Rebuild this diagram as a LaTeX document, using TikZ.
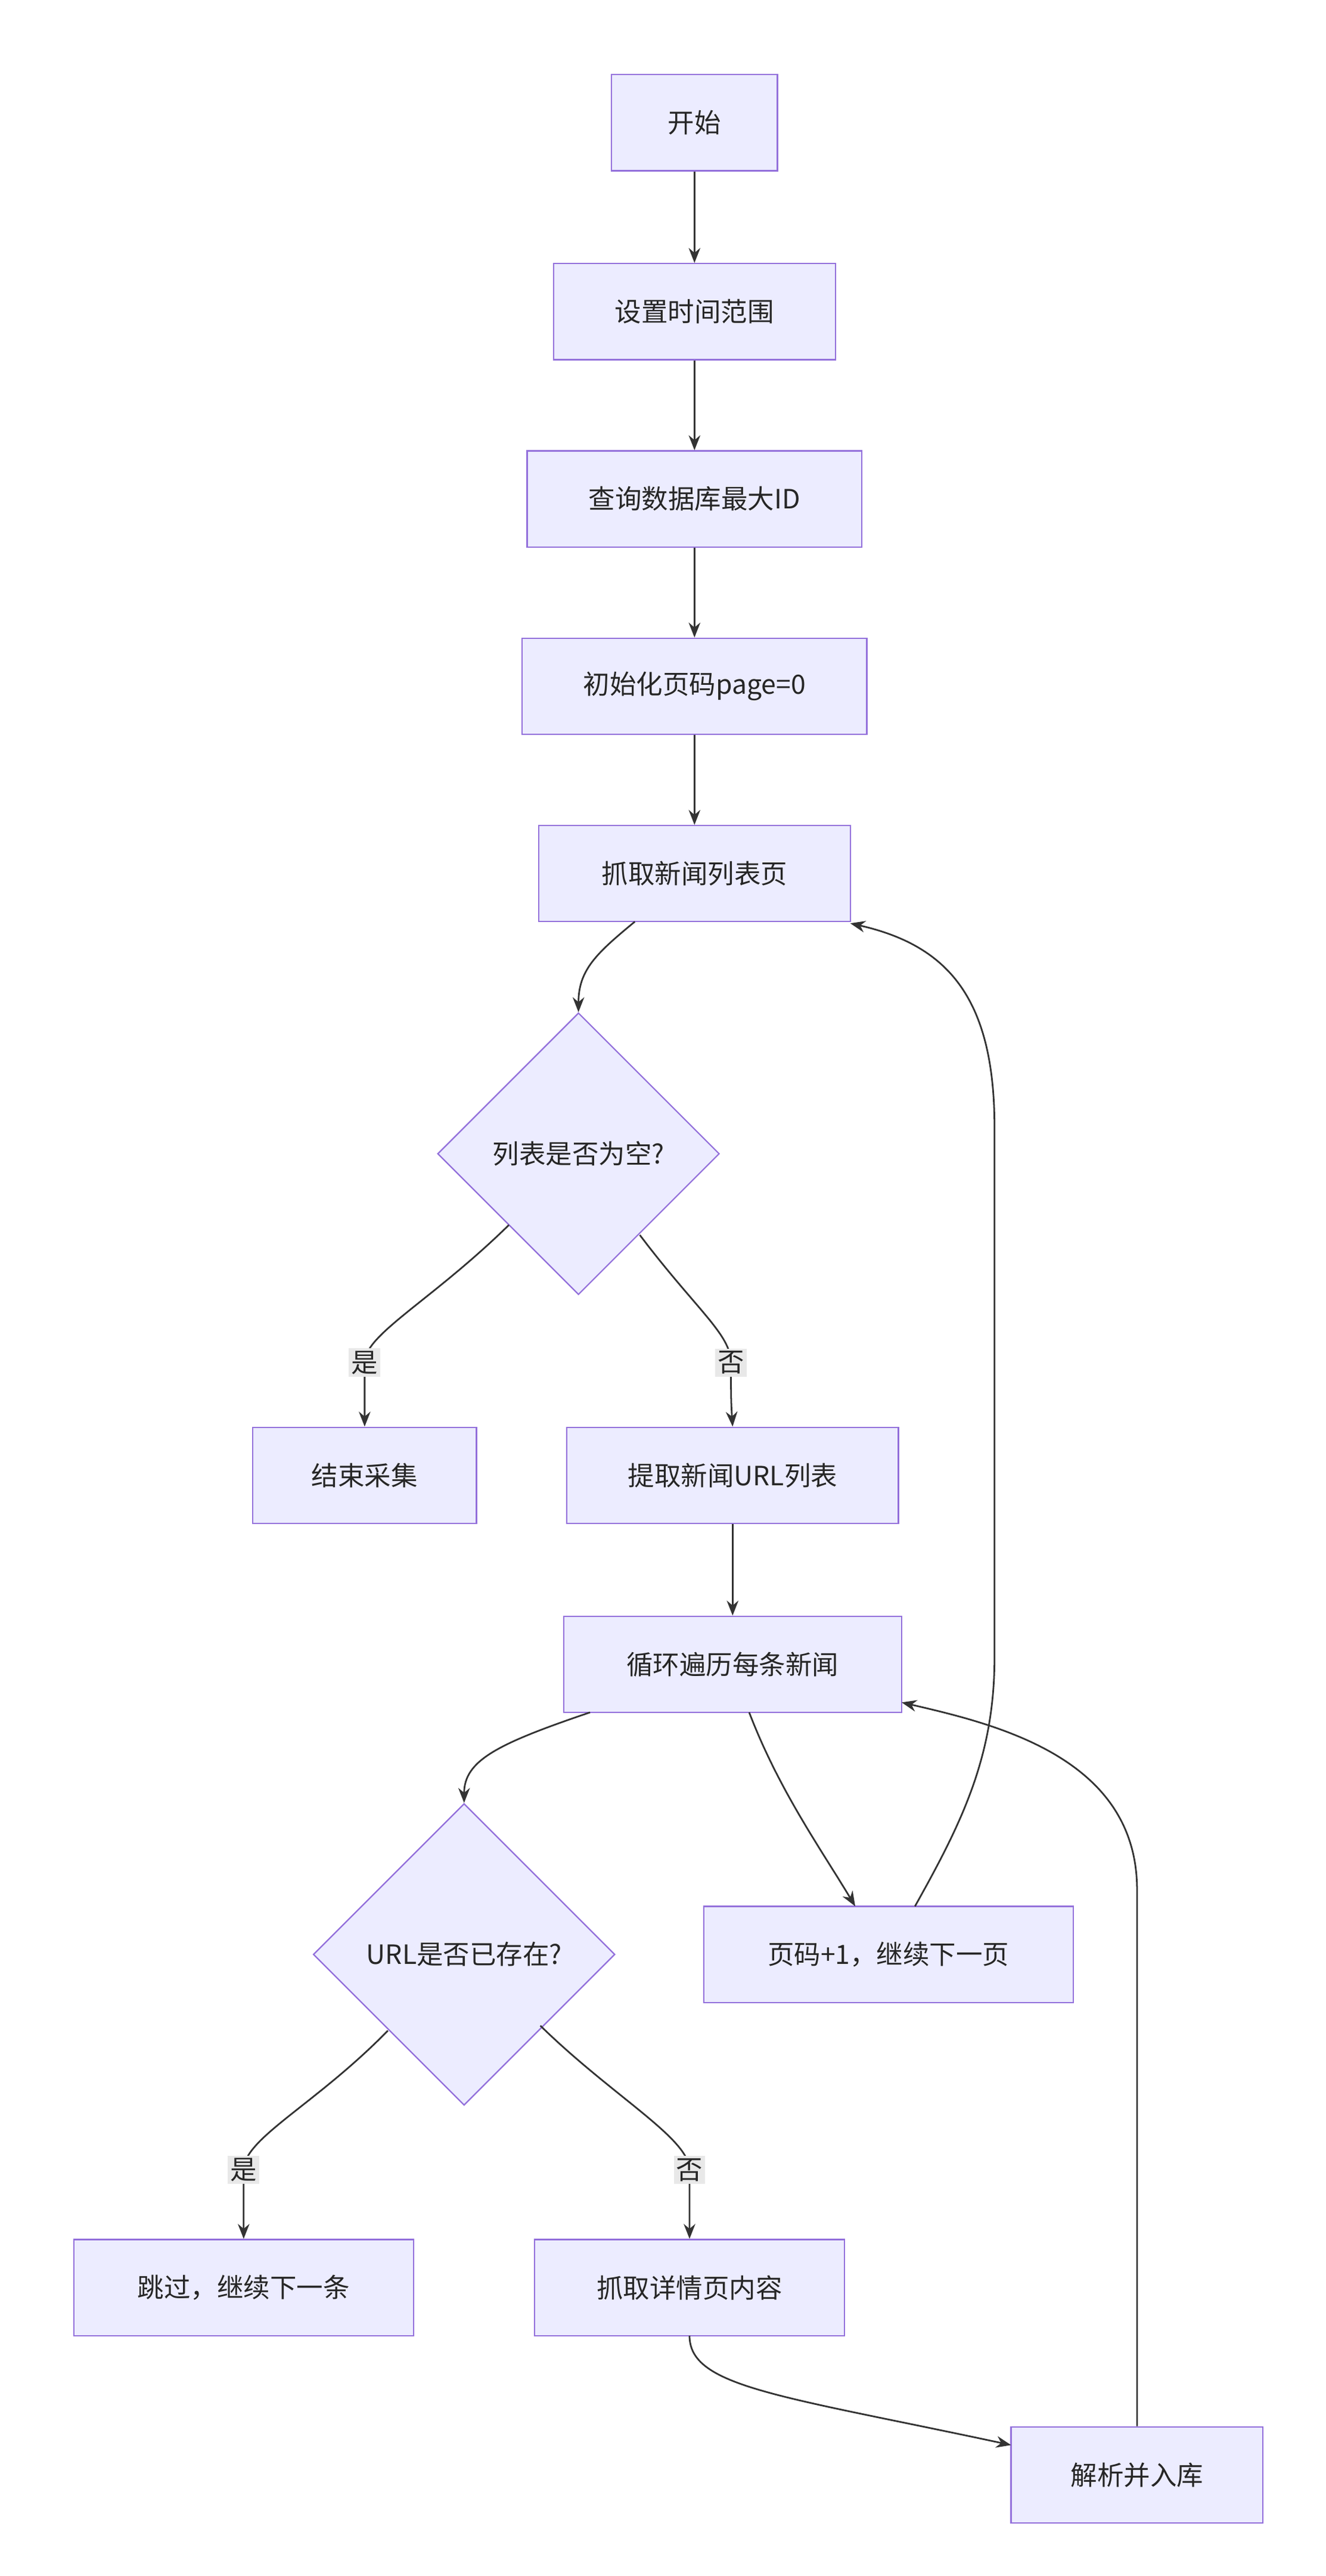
\documentclass[tikz,border=0pt]{standalone}
\usepackage{fontspec}
\newfontfamily\cjk{Noto Sans CJK SC}
\usetikzlibrary{shapes.geometric,arrows.meta}
\definecolor{nfill}{HTML}{ECECFF}
\definecolor{nline}{HTML}{9370DB}
\definecolor{eline}{HTML}{333333}
\definecolor{lbg}{HTML}{E8E8E8}
\begin{document}
\begin{tikzpicture}[x=1pt,y=-1pt,
  box/.style={draw=nline,fill=nfill,line width=0.8pt,minimum height=58pt,inner sep=0pt,font=\cjk\fontsize{16}{19}\selectfont,text=black!85},
  dia/.style={draw=nline,fill=nfill,line width=0.8pt,diamond,inner sep=0pt,font=\cjk\fontsize{16}{19}\selectfont,text=black!85},
  e/.style={draw=eline,line width=1pt,-{Stealth[length=9pt,width=7pt]}},
  lb/.style={fill=lbg,inner sep=1.5pt,font=\cjk\fontsize{16}{19}\selectfont,text=black!85}]
\useasboundingbox[fill=white] (0,0) rectangle (800,1554);
\node[box,minimum width=100pt] (a) at (419,74) {开始};
\node[box,minimum width=170pt] (b) at (419,188) {设置时间范围};
\node[box,minimum width=202pt] (c) at (419,301) {查询数据库最大ID};
\node[box,minimum width=208pt] (d) at (419,414) {初始化页码page=0};
\node[box,minimum width=188pt] (f) at (419,527) {抓取新闻列表页};
\node[dia,minimum width=170pt,minimum height=170pt] (g) at (349,696) {列表是否为空?};
\node[box,minimum width=135pt] (h) at (220,890) {结束采集};
\node[box,minimum width=200pt] (i) at (442,890) {提取新闻URL列表};
\node[box,minimum width=204pt] (j) at (442,1004) {循环遍历每条新闻};
\node[dia,minimum width=182pt,minimum height=182pt] (k) at (280,1179) {URL是否已存在?};
\node[box,minimum width=223pt] (l) at (536,1179) {页码+1，继续下一页};
\node[box,minimum width=205pt] (m) at (147,1380) {跳过，继续下一条};
\node[box,minimum width=187pt] (n) at (416,1380) {抓取详情页内容};
\node[box,minimum width=152pt] (o) at (686,1493) {解析并入库};
\coordinate (fb) at (383,556);
\coordinate (ft) at (513,557);
\coordinate (jl) at (356,1033);
\coordinate (jr) at (452,1033);
\coordinate (jt) at (544,1027);
\coordinate (lt) at (552,1150);
\coordinate (lbt) at (516,1150);
\coordinate (nb) at (416,1409);
\coordinate (ol) at (610,1475);
\coordinate (gl) at (307,739);
\coordinate (gr) at (386,745);
\coordinate (kl) at (234,1225);
\coordinate (kr) at (326,1222);
\draw[e] (a) -- (b);
\draw[e] (b) -- (c);
\draw[e] (c) -- (d);
\draw[e] (d) -- (f);
\draw[e] (fb) .. controls (360,575) and (349,585) .. (g.north);
\draw[e] (gl) .. controls (260,785) and (220,805) .. (220,822) .. controls (220,840) and (220,845) .. (h.north);
\draw[e] (gr) .. controls (420,790) and (441,805) .. (441,822) .. controls (441,840) and (441,845) .. (i.north);
\node[lb] at (220,822) {是};
\node[lb] at (441,822) {否};
\draw[e] (i) -- (j);
\draw[e] (jl) .. controls (300,1052) and (280,1062) .. (k.north);
\draw[e] (jr) .. controls (470,1080) and (495,1115) .. (lbt);
\draw[e] (lt) .. controls (580,1100) and (600,1060) .. (600,1000) -- (600,680) .. controls (600,600) and (570,570) .. (ft);
\draw[e] (kl) .. controls (190,1270) and (147,1290) .. (147,1309) .. controls (147,1330) and (147,1335) .. (m.north);
\draw[e] (kr) .. controls (370,1265) and (416,1290) .. (416,1309) .. controls (416,1330) and (416,1335) .. (n.north);
\node[lb] at (147,1309) {是};
\node[lb] at (416,1309) {否};
\draw[e] (nb) .. controls (416,1440) and (470,1445) .. (ol);
\draw[e] (o.north) -- (686,1140) .. controls (686,1060) and (600,1040) .. (jt);
\end{tikzpicture}
\end{document}
